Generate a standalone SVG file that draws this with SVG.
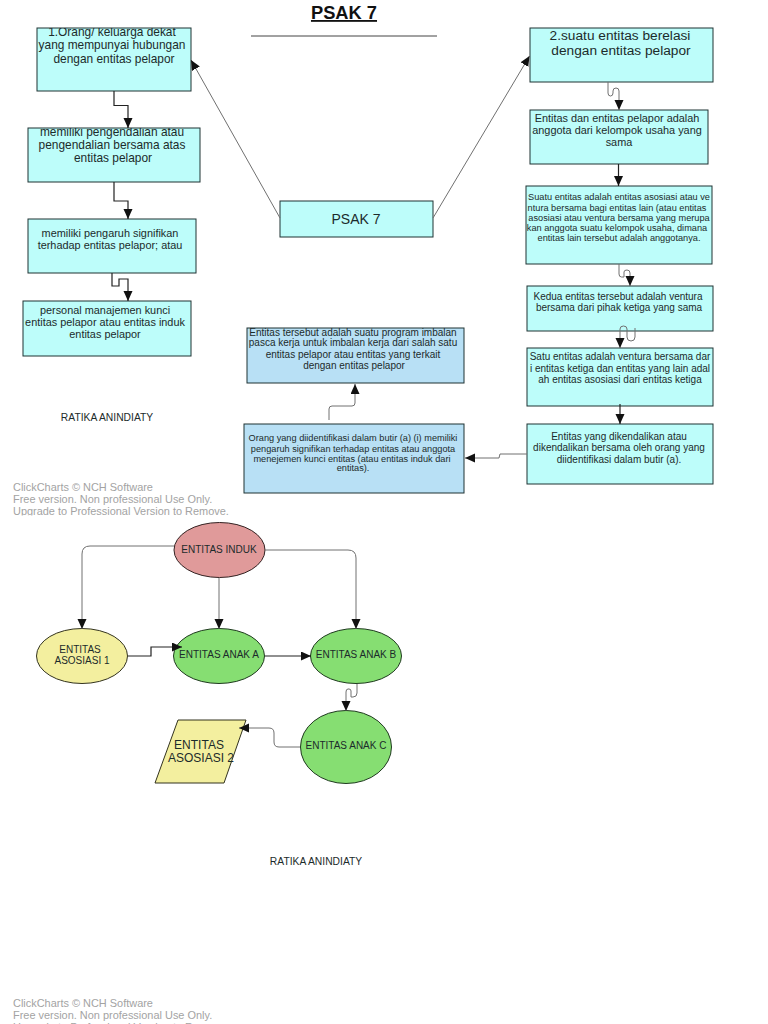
<svg xmlns="http://www.w3.org/2000/svg" width="768" height="1024" viewBox="0 0 768 1024">
<style>
text{font-family:"Liberation Sans",Arial,sans-serif;fill:#1c2b2b;text-anchor:middle}
.c{fill:#bdfdfa;stroke:#1f3333;stroke-width:1}
.b{fill:#b8e0f5;stroke:#1f3333;stroke-width:1}
.g{fill:#86de72;stroke:#1f3a1f;stroke-width:1}
.y{fill:#f3ef9f;stroke:#33331f;stroke-width:1}
.l{fill:none;stroke:#222;stroke-width:1.2}
.s{fill:none;stroke:#707070;stroke-width:1}
.m{fill:#a3a3a3;text-anchor:start;font-size:10.950px}
.t12{font-size:11.900px}.t11{font-size:10.900px}.t10{font-size:10px}.t9{font-size:9.200px}.t14{font-size:14px}
</style>
<defs>
<marker id="a" markerUnits="userSpaceOnUse" markerWidth="11" markerHeight="10" refX="10" refY="4.500" orient="auto"><path d="M0 0L10 4.500L0 9Z" fill="#111"/></marker>
<clipPath id="k1"><rect x="37" y="28" width="154" height="63"/></clipPath>
<clipPath id="k2"><rect x="28" y="128" width="172" height="54"/></clipPath>
<clipPath id="k3"><rect x="247" y="328" width="217" height="55"/></clipPath>
<clipPath id="k4"><rect x="530" y="28" width="183" height="54"/></clipPath>
<clipPath id="k5"><rect x="0" y="470" width="300" height="45.500"/></clipPath>
</defs>

<g id="title"><text x="344" y="19" font-size="18.300" font-weight="700" text-decoration="underline" style="fill:#111">PSAK 7</text><path d="M251 36H437" fill="none" stroke="#444"/></g>

<g id="box1"><rect class="c" x="37" y="28" width="154" height="63"/>
<g clip-path="url(#k1)" class="t12"><text x="112" y="36">1.Orang/ keluarga dekat</text><text x="112" y="49">yang mempunyai hubungan</text><text x="114" y="63">dengan entitas pelapor</text></g></g>
<g id="box2"><rect class="c" x="28" y="128" width="172" height="54"/>
<g clip-path="url(#k2)" class="t12"><text x="112" y="136">memiliki pengendalian atau</text><text x="112" y="149">pengendalian bersama atas</text><text x="113" y="162">entitas pelapor</text></g></g>
<g id="box3"><rect class="c" x="28" y="219" width="168" height="54"/>
<g class="t11"><text x="110" y="237">memiliki pengaruh signifikan</text><text x="110" y="249">terhadap entitas pelapor; atau</text></g></g>
<g id="box4"><rect class="c" x="23" y="301" width="168" height="55"/>
<g class="t11"><text x="105" y="314">personal manajemen kunci</text><text x="105" y="326">entitas pelapor atau entitas induk</text><text x="105" y="338">entitas pelapor</text></g></g>
<g id="author1"><text x="107" y="421" font-size="10.300">RATIKA ANINDIATY</text></g>

<g id="psak"><rect class="c" x="280" y="201" width="153" height="36"/><text x="356" y="224" class="t14">PSAK 7</text></g>

<g id="r1"><rect class="c" x="530" y="28" width="183" height="54"/>
<g clip-path="url(#k4)" font-size="13.700"><text x="620" y="40">2.suatu entitas berelasi</text><text x="621" y="55">dengan entitas pelapor</text></g></g>
<g id="r2"><rect class="c" x="530" y="110" width="178" height="54"/>
<g class="t11"><text x="617" y="122">Entitas dan entitas pelapor adalah</text><text x="617" y="134">anggota dari kelompok usaha yang</text><text x="619" y="146">sama</text></g></g>
<g id="r3"><rect class="c" x="526" y="186" width="186" height="78"/>
<g class="t9"><text x="619" y="200">Suatu entitas adalah entitas asosiasi atau ve</text><text x="617" y="211">ntura bersama bagi entitas lain (atau entitas</text><text x="619" y="221">asosiasi atau ventura bersama yang merupa</text><text x="617" y="231">kan anggota suatu kelompok usaha, dimana</text><text x="619" y="241">entitas lain tersebut adalah anggotanya.</text></g></g>
<g id="r4"><rect class="c" x="527" y="286" width="186" height="45"/>
<g class="t10"><text x="618" y="300">Kedua entitas tersebut adalah ventura</text><text x="619" y="311">bersama dari pihak ketiga yang sama</text></g></g>
<g id="r5"><rect class="c" x="527" y="348" width="186" height="58"/>
<g class="t10"><text x="620" y="360">Satu entitas adalah ventura bersama dar</text><text x="620" y="372">i entitas ketiga dan entitas yang lain adal</text><text x="620" y="383">ah entitas asosiasi dari entitas ketiga</text></g></g>
<g id="r6"><rect class="c" x="527" y="424" width="186" height="60"/>
<g class="t10"><text x="619" y="440">Entitas yang dikendalikan atau</text><text x="619" y="451">dikendalikan bersama oleh orang yang</text><text x="619" y="463">diidentifikasi dalam butir (a).</text></g></g>

<g id="b1"><rect class="b" x="247" y="328" width="217" height="55"/>
<g clip-path="url(#k3)" class="t10"><text x="353" y="336">Entitas tersebut adalah suatu program imbalan</text><text x="353" y="346">pasca kerja untuk imbalan kerja dari salah satu</text><text x="353" y="358">entitas pelapor atau entitas yang terkait</text><text x="354" y="369">dengan entitas pelapor</text></g></g>
<g id="b2"><rect class="b" x="244" y="424" width="220" height="69"/>
<g class="t9"><text x="353" y="441">Orang yang diidentifikasi dalam butir (a) (i) memiliki</text><text x="353" y="452">pengaruh signifikan terhadap entitas atau anggota</text><text x="352" y="462">menejemen kunci entitas (atau entitas induk dari</text><text x="353" y="471">entitas).</text></g></g>

<g id="watermark1" clip-path="url(#k5)"><text x="13" y="491" class="m">ClickCharts © NCH Software</text><text x="13" y="503" class="m">Free version. Non professional Use Only.</text><text x="13" y="515" class="m">Upgrade to Professional Version to Remove.</text></g>

<g id="induk"><ellipse cx="219.500" cy="550" rx="45.500" ry="27.500" fill="#e09a9a" stroke="#332222"/><text x="219" y="553" class="t10">ENTITAS INDUK</text></g>
<g id="asosiasi1"><ellipse cx="82" cy="656" rx="45.500" ry="27.500" class="y"/><text x="80" y="653" class="t10">ENTITAS</text><text x="82" y="664" class="t10">ASOSIASI 1</text></g>
<g id="anakA"><ellipse cx="219" cy="656" rx="45.500" ry="27.500" class="g"/><text x="219" y="658" class="t10">ENTITAS ANAK A</text></g>
<g id="anakB"><ellipse cx="356" cy="656" rx="45.500" ry="27.500" class="g"/><text x="356" y="658" class="t10">ENTITAS ANAK B</text></g>
<g id="anakC"><ellipse cx="346" cy="747" rx="45.500" ry="36.500" class="g"/><text x="346" y="749" class="t10">ENTITAS ANAK C</text></g>
<g id="asosiasi2"><path class="y" d="M178 720H246L224 783H155Z"/><text x="199" y="749" font-size="12">ENTITAS</text><text x="201" y="762" font-size="12">ASOSIASI 2</text></g>

<g id="author2"><text x="316" y="865" font-size="10.300">RATIKA ANINDIATY</text></g>
<g id="watermark2"><text x="13" y="1007" class="m">ClickCharts © NCH Software</text><text x="13" y="1019" class="m">Free version. Non professional Use Only.</text><text x="13" y="1031" class="m">Upgrade to Professional Version to Remove.</text></g>

<g id="connectors">
<path class="l" d="M114 91V105.500H128V128" marker-end="url(#a)"/>
<path class="l" d="M114 182V201H128V219" marker-end="url(#a)"/>
<path class="l" d="M112 273V286H119V279H128V301" marker-end="url(#a)"/>
<path class="s" d="M280 218L191 60" marker-end="url(#a)"/>
<path class="s" d="M433 218L529.500 56" marker-end="url(#a)"/>
<path class="s" d="M608 82V93Q608 96 610.500 96Q613 96 613 93V91Q613 88 616 88Q619 88 619 91V110" marker-end="url(#a)"/>
<path class="l" d="M618.500 164V186" marker-end="url(#a)"/>
<path class="s" d="M619 264V274Q619 277 621.500 277H624V272Q624 270 627 270Q630 270 630 273V286" marker-end="url(#a)"/>
<path class="s" d="M635 328V337Q635 341 631 341Q627 341 627 337V329Q627 326 623.500 326Q620 326 620 329V348" marker-end="url(#a)"/>
<path class="l" d="M620 404V424" marker-end="url(#a)"/>
<path class="s" d="M527 454H500L499 458H465" marker-end="url(#a)"/>
<path class="s" d="M329 420V409Q329 406 332 406H352Q355 406 355 403V384" marker-end="url(#a)"/>
<path class="s" d="M174 546H90Q82 546 82 554V629" marker-end="url(#a)"/>
<path class="s" d="M219 578V629" marker-end="url(#a)"/>
<path class="s" d="M265 550H348Q356 550 356 558V629" marker-end="url(#a)"/>
<path class="l" d="M128 656H151V647H182" marker-end="url(#a)"/>
<path class="l" d="M265 656H311" marker-end="url(#a)"/>
<path class="s" d="M357 684V693Q357 697 353 697H351V691Q351 689 349 689H348Q346 689 346 692V711" marker-end="url(#a)"/>
<path class="s" d="M300 747H279Q274 747 274 742V733Q274 728 269 728H239" marker-end="url(#a)"/>
</g>
</svg>
